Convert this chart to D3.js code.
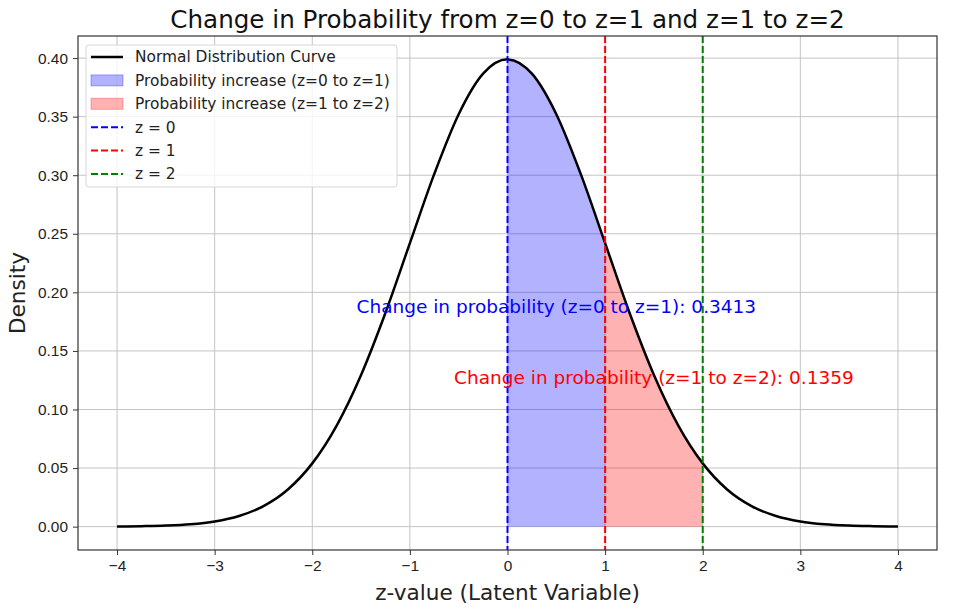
<!DOCTYPE html>
<html>
<head>
<meta charset="utf-8">
<script src="https://cdn.jsdelivr.net/npm/d3@7"></script>
<style>
  body { margin: 0; background: #fff; }
  svg { font-family: "DejaVu Sans", sans-serif; }
</style>
</head>
<body>
<div id="chart"></div>
<script>
// curve points (standard normal density)
const zValues = [-4, -3.75, -3.5, -3.25, -3, -2.75, -2.5, -2.25, -2, -1.75, -1.5, -1.25, -1, -0.75, -0.5, -0.25,
                 0, 0.25, 0.5, 0.75, 1, 1.25, 1.5, 1.75, 2, 2.25, 2.5, 2.75, 3, 3.25, 3.5, 3.75, 4];
const density = [0.0001, 0.0004, 0.0009, 0.0020, 0.0044, 0.0091, 0.0175, 0.0317, 0.0540, 0.0863, 0.1295, 0.1826, 0.2420, 0.3011, 0.3521, 0.3867,
                 0.3989, 0.3867, 0.3521, 0.3011, 0.2420, 0.1826, 0.1295, 0.0863, 0.0540, 0.0317, 0.0175, 0.0091, 0.0044, 0.0020, 0.0009, 0.0004, 0.0001];

const xTicks = [-4, -3, -2, -1, 0, 1, 2, 3, 4];
const yTicks = [0, 0.05, 0.10, 0.15, 0.20, 0.25, 0.30, 0.35, 0.40];

// shaded ranges and marker lines
const bands = [
    { from: 0, to: 1, color: "#0000ff", label: "Probability increase (z=0 to z=1)" },
    { from: 1, to: 2, color: "#ff0000", label: "Probability increase (z=1 to z=2)" }
];
const markers = [
    { z: 0, color: "#0000ff", label: "z = 0" },
    { z: 1, color: "#ff0000", label: "z = 1" },
    { z: 2, color: "#008000", label: "z = 2" }
];
const notes = [
    { z: 0.5, y: 0.18, color: "#0000ff", text: "Change in probability (z=0 to z=1): 0.3413" },
    { z: 1.5, y: 0.12, color: "#ff0000", text: "Change in probability (z=1 to z=2): 0.1359" }
];

const points = zValues.map((z, i) => ({ z: z, d: density[i] }));

let margin = { top: 36, right: 38, bottom: 65, left: 78 };
let width = 975 - margin.left - margin.right;
let height = 615 - margin.top - margin.bottom;

let svg = d3.select("#chart")
    .append("svg")
    .attr("width", 975)
    .attr("height", 615);

let g = svg.append("g")
    .attr("transform", "translate(" + margin.left + "," + margin.top + ")");

const x = d3.scaleLinear().domain([-4.4, 4.4]).range([0, width]);
const y = d3.scaleLinear().domain([-0.01995, 0.41885]).range([height, 0]);

// grid
g.append("g")
    .selectAll("line")
    .data(xTicks)
    .join("line")
    .attr("x1", d => x(d)).attr("x2", d => x(d))
    .attr("y1", 0).attr("y2", height)
    .attr("stroke", "#c4c4c4").attr("stroke-width", 1);
g.append("g")
    .selectAll("line")
    .data(yTicks)
    .join("line")
    .attr("x1", 0).attr("x2", width)
    .attr("y1", d => y(d)).attr("y2", d => y(d))
    .attr("stroke", "#c4c4c4").attr("stroke-width", 1);

const curve = d3.curveMonotoneX;

// shaded areas, clipped to each range
const area = d3.area()
    .x(d => x(d.z))
    .y0(y(0))
    .y1(d => y(d.d))
    .curve(curve);

bands.forEach((b, i) => {
    g.append("clipPath")
        .attr("id", "clip" + i)
        .append("rect")
        .attr("x", x(b.from))
        .attr("y", 0)
        .attr("width", x(b.to) - x(b.from))
        .attr("height", height);
    g.append("path")
        .datum(points)
        .attr("clip-path", "url(#clip" + i + ")")
        .attr("d", area)
        .attr("fill", b.color)
        .attr("fill-opacity", 0.3);
});

// the curve
g.append("path")
    .datum(points)
    .attr("d", d3.line().x(d => x(d.z)).y(d => y(d.d)).curve(curve))
    .attr("fill", "none")
    .attr("stroke", "#000")
    .attr("stroke-width", 2.5);

// vertical dashed lines
g.selectAll(".marker")
    .data(markers)
    .join("line")
    .attr("class", "marker")
    .attr("x1", d => x(d.z)).attr("x2", d => x(d.z))
    .attr("y1", 0).attr("y2", height)
    .attr("stroke", d => d.color)
    .attr("stroke-width", 2)
    .attr("stroke-dasharray", "7,3");

// annotations
g.selectAll(".note")
    .data(notes)
    .join("text")
    .attr("class", "note")
    .attr("x", d => x(d.z))
    .attr("y", d => y(d.y))
    .attr("dy", -2.5)
    .attr("text-anchor", "middle")
    .attr("fill", d => d.color)
    .style("font-size", "18.5px")
    .text(d => d.text);

// axes
const xAxis = g.append("g")
    .attr("transform", "translate(0," + height + ")")
    .call(d3.axisBottom(x).tickValues(xTicks).tickSize(5).tickPadding(5)
        .tickFormat(d => d < 0 ? "\u2212" + Math.abs(d) : d));
const yAxis = g.append("g")
    .call(d3.axisLeft(y).tickValues(yTicks).tickSize(5).tickPadding(5).tickFormat(d3.format(".2f")));
[xAxis, yAxis].forEach(a => {
    a.select(".domain").remove();
    a.selectAll("text").style("font-size", "15.4px").attr("fill", "#222");
    a.selectAll("line").attr("stroke", "#333");
});

// frame
g.append("rect")
    .attr("width", width).attr("height", height)
    .attr("fill", "none").attr("stroke", "#333").attr("stroke-width", 1.2);

// labels
svg.append("text")
    .attr("x", margin.left + width / 2)
    .attr("y", 28)
    .attr("text-anchor", "middle")
    .style("font-size", "24.6px")
    .attr("fill", "#111")
    .text("Change in Probability from z=0 to z=1 and z=1 to z=2");
svg.append("text")
    .attr("x", margin.left + width / 2)
    .attr("y", 600)
    .attr("text-anchor", "middle")
    .style("font-size", "21.6px")
    .attr("fill", "#222")
    .text("z-value (Latent Variable)");
svg.append("text")
    .attr("transform", "translate(25," + (margin.top + height / 2) + ") rotate(-90)")
    .attr("text-anchor", "middle")
    .style("font-size", "21.6px")
    .attr("fill", "#222")
    .text("Density");

// legend
const legendItems = [{ type: "line", color: "#000", label: "Normal Distribution Curve" }]
    .concat(bands.map(b => ({ type: "patch", color: b.color, label: b.label })))
    .concat(markers.map(m => ({ type: "dash", color: m.color, label: m.label })));

const legend = svg.append("g").attr("transform", "translate(86,45)");
legend.append("rect")
    .attr("width", 311).attr("height", 142).attr("rx", 3)
    .attr("fill", "#fff").attr("fill-opacity", 0.8)
    .attr("stroke", "#d6d6d6");

const rows = legend.selectAll(".row")
    .data(legendItems)
    .join("g")
    .attr("class", "row")
    .attr("transform", (d, i) => "translate(0," + (12 + i * 23.4) + ")");

rows.each(function(d) {
    const r = d3.select(this);
    if (d.type === "patch") {
        r.append("rect")
            .attr("x", 5).attr("y", -5.5).attr("width", 32).attr("height", 11)
            .attr("fill", d.color).attr("fill-opacity", 0.3)
            .attr("stroke", d.color).attr("stroke-opacity", 0.3);
    } else {
        r.append("line")
            .attr("x1", 5).attr("x2", 37)
            .attr("stroke", d.color)
            .attr("stroke-width", d.type === "line" ? 2.5 : 2)
            .attr("stroke-dasharray", d.type === "dash" ? "7,3" : null);
    }
});
rows.append("text")
    .attr("x", 49)
    .attr("dy", "0.35em")
    .style("font-size", "15.4px")
    .attr("fill", "#222")
    .text(d => d.label);
</script>
</body>
</html>
